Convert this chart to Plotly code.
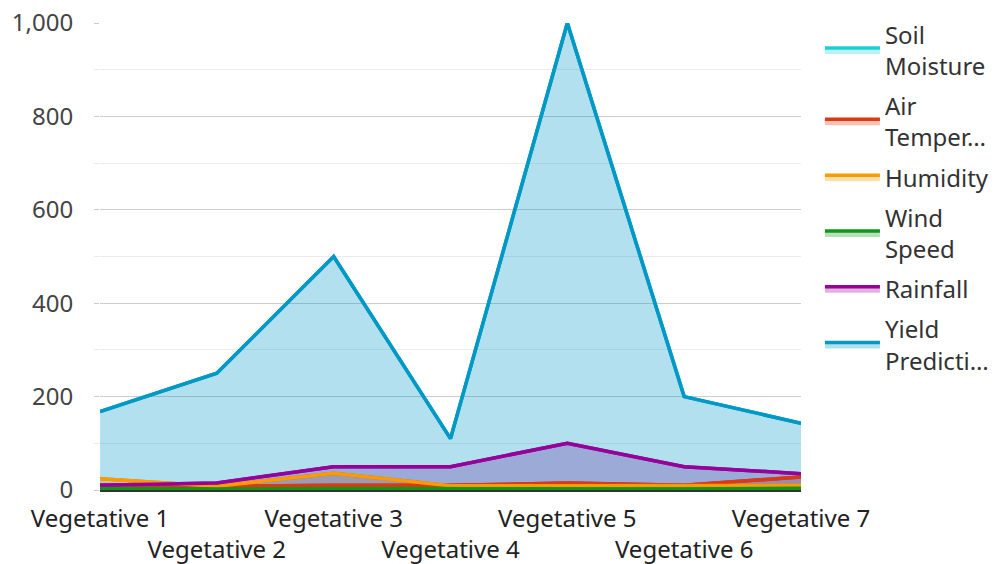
import plotly.graph_objects as go

categories = ["Vegetative 1", "Vegetative 2", "Vegetative 3", "Vegetative 4",
              "Vegetative 5", "Vegetative 6", "Vegetative 7"]
tick_text = ["Vegetative 1", "<br>Vegetative 2", "Vegetative 3", "<br>Vegetative 4",
             "Vegetative 5", "<br>Vegetative 6", "Vegetative 7"]

soil_moisture = [0.3, 0.3, 0.35, 0.3, 0.3, 0.25, 0.3]
air_temperature = [10, 8, 10, 10, 15, 10, 28]
humidity = [24, 8, 36, 9, 9, 9, 10]
wind_speed = [3, 2, 3, 3, 3, 2, 4]
rainfall = [10, 15, 50, 50, 100, 50, 35]
yield_prediction = [168, 250, 500, 110, 1000, 200, 143]

# (legend name, values, colour)
series = [
    ("Soil<br>Moisture", soil_moisture, "#1ccfd6"),
    ("Air<br>Temper…", air_temperature, "#dc3912"),
    ("Humidity", humidity, "#ff9900"),
    ("Wind<br>Speed", wind_speed, "#109618"),
    ("Rainfall", rainfall, "#990099"),
    ("Yield<br>Predicti…", yield_prediction, "#0099c6"),
]


def rgba(hex_color, a):
    h = hex_color.lstrip("#")
    r, g, b = int(h[0:2], 16), int(h[2:4], 16), int(h[4:6], 16)
    return f"rgba({r},{g},{b},{a})"


fig = go.Figure()
# areas first (in series order), each carrying the legend entry
for k, (name, vals, col) in enumerate(series):
    fig.add_trace(go.Scatter(
        x=categories, y=vals, name=name, mode="lines",
        line=dict(color=col, width=3.5),
        fill="tozeroy", fillcolor=rgba(col, 0.3),
        legendgroup=f"g{k}",
    ))
# then the lines on top of all areas
for k, (name, vals, col) in enumerate(series):
    fig.add_trace(go.Scatter(
        x=categories, y=vals, name=name, mode="lines",
        line=dict(color=col, width=3.5), showlegend=False,
        legendgroup=f"g{k}", hoverinfo="skip",
    ))

font_family = "Noto Sans, Open Sans, sans-serif"
fig.update_layout(
    width=995, height=564,
    margin=dict(l=100, r=194, t=23, b=74, autoexpand=False),
    paper_bgcolor="white", plot_bgcolor="white",
    font=dict(family=font_family, size=24, color="#444444"),
    showlegend=True,
    legend=dict(x=1.027, xanchor="left", y=1.023, yanchor="top",
                font=dict(size=24, color="#333333"), maxheight=1,
                itemwidth=55, tracegroupgap=6, traceorder="grouped"),
    xaxis=dict(
        type="category", tickmode="array", tickvals=categories, ticktext=tick_text,
        range=[0, 6], showgrid=False, showline=True, linecolor="#333333", linewidth=2,
        ticks="", tickangle=0, automargin=False, ticklabelstandoff=6,
        tickfont=dict(size=24, color="#222222"),
    ),
    yaxis=dict(
        range=[0, 1000], tickmode="array", tickvals=[0, 200, 400, 600, 800, 1000],
        tickformat=",d", showgrid=True, gridcolor="#cccccc", gridwidth=1,
        zeroline=False, showline=False, automargin=False,
        ticks="outside", ticklen=5, tickcolor="#cccccc",
        ticklabelstandoff=16,
        minor=dict(tickvals=[100, 300, 500, 700, 900], showgrid=True,
                   gridcolor="#ebebeb", ticks="outside", ticklen=5, tickcolor="#ebebeb"),
        tickfont=dict(size=24, color="#444444"),
    ),
)

fig.write_html("out.html", config={"displayModeBar": False},
               post_script="document.body.style.margin='0';")
